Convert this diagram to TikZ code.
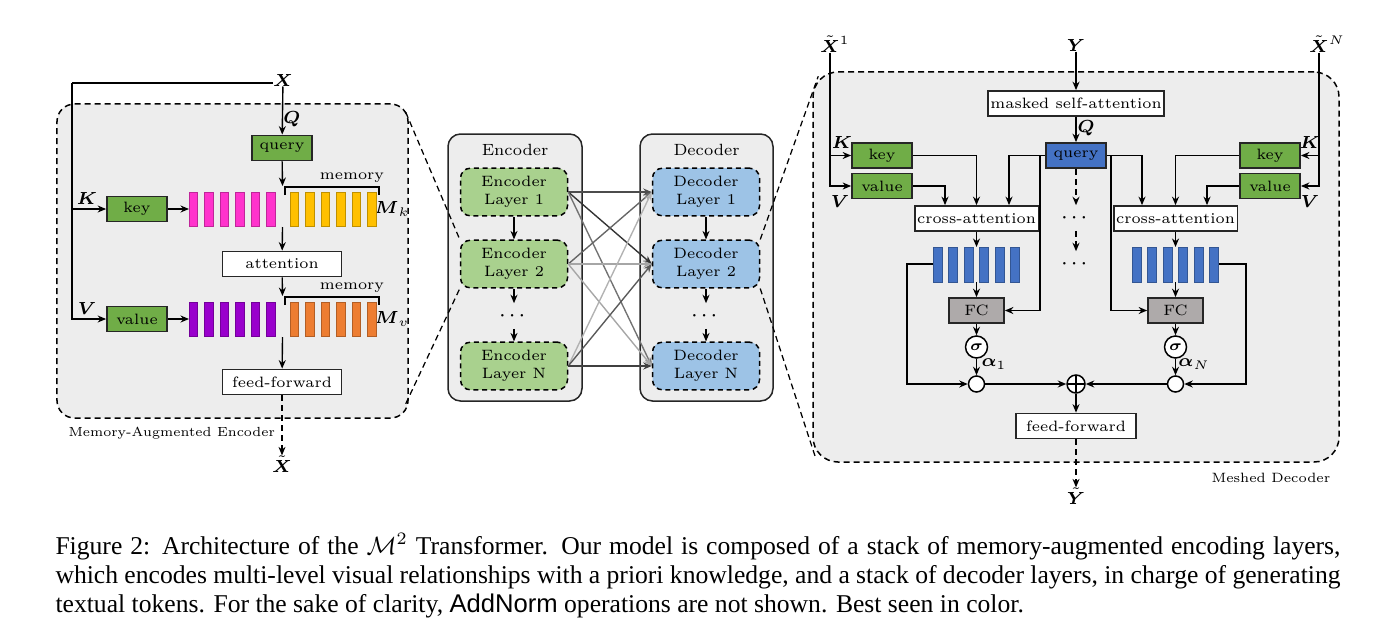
\documentclass[tikz,border=0pt]{standalone}
\usepackage{amsmath}
\usepackage{fontspec}
\newfontfamily\capfont{Liberation Serif}
\newfontfamily\capsans{Liberation Sans}
\usetikzlibrary{positioning, arrows.meta, calc}
\definecolor{kvgreen}{RGB}{112,173,71}
\definecolor{encgreen}{RGB}{169,209,142}
\definecolor{decblue}{RGB}{157,195,230}
\definecolor{qblue}{RGB}{68,114,196}
\definecolor{pinkbar}{RGB}{255,51,204}
\definecolor{yellowbar}{RGB}{255,192,0}
\definecolor{purplebar}{RGB}{153,0,204}
\definecolor{orangebar}{RGB}{237,125,49}
\definecolor{fcgray}{RGB}{174,170,170}
\definecolor{panelgray}{RGB}{237,237,237}
\tikzset{
>={Stealth[length=3.4pt,width=2.8pt]}, % small arrow heads everywhere
every node/.style={font=\fontsize{6}{7}\selectfont},
lbl/.style={font=\fontsize{7.3}{8}\selectfont, inner sep=0pt}, % math labels
panellabel/.style={anchor=west, inner sep=0pt, font=\fontsize{6}{7}\selectfont},
opbox/.style={draw=black!85, line width=0.7pt, minimum height=10pt, inner sep=1pt},
kvbox/.style={opbox, fill=kvgreen, minimum width=24pt},
whitebox/.style={opbox, fill=white, minimum width=47.6pt},
fcbox/.style={opbox, fill=fcgray, minimum width=22pt},
layerbox/.style={draw, line width=0.6pt, dash pattern=on 2pt off 1.5pt, rounded corners=4pt, minimum width=42.8pt, minimum height=18.4pt, align=center},
stackbox/.style={draw=black!85, line width=0.6pt, fill=panelgray, rounded corners=5pt},
panel/.style={draw, line width=0.6pt, dash pattern=on 2.4pt off 1.6pt, fill=panelgray},
zoomline/.style={line width=0.5pt, dash pattern=on 2.4pt off 1.6pt},
flow/.style={->, line width=0.55pt},
opcircle/.style={circle, draw, line width=0.6pt, fill=white, inner sep=0pt},
dotcircle/.style={opcircle, minimum size=6.4pt, path picture={\fill (path picture bounding box.center) circle (0.65pt);}},
pluscircle/.style={opcircle, minimum size=7.2pt, path picture={\draw[line width=0.6pt] (path picture bounding box.north) -- (path picture bounding box.south) (path picture bounding box.west) -- (path picture bounding box.east);}},
captext/.style={anchor=base west, inner sep=0pt, font=\capfont\fontsize{10.25}{12}\selectfont},
}

\begin{document}
\begin{tikzpicture}[x=0.4pt,y=-0.4pt]
\useasboundingbox (0,0) rectangle (1390,633);

% panels
\node[panel, rounded corners=7pt, minimum width=140.4pt, minimum height=125.6pt] (encpanel) at (232.5,261) {};
\node[stackbox, minimum width=53.6pt, minimum height=106.8pt] (encstack) at (515,267.5) {};
\node[stackbox, minimum width=53.2pt, minimum height=106.8pt] (decstack) at (706.5,267.5) {};
\node[panel, rounded corners=10pt, minimum width=210.4pt, minimum height=156pt] (decpanel) at (1076,267) {};

% memory-augmented encoder
\node[lbl] (X) at (283,80) {$\boldsymbol{X}$};
\node[kvbox] (query) at (282,148) {query};
\node[kvbox] (key) at (137,209) {key};
\node[kvbox] (value) at (137,319) {value};
\node[whitebox] (attn) at (282,264) {attention};
\node[whitebox] (ffe) at (282,382) {feed-forward};
\node[lbl] (Xt) at (282,464) {$\tilde{\boldsymbol{X}}$};
\node[lbl] (Qe) at (292,119) {$\boldsymbol{Q}$};
\node[lbl] (Ke) at (87,198) {$\boldsymbol{K}$};
\node[lbl] (Ve) at (87,308) {$\boldsymbol{V}$};
\node (memk) at (352,178) {memory};
\node (memv) at (352,288) {memory};
\node[lbl] (Mk) at (392,209) {$\boldsymbol{M}_k$};
\node[lbl] (Mv) at (392,319) {$\boldsymbol{M}_v$};
\node[panellabel] (enclabel) at (68,433) {\scalebox{0.88}{Memory-Augmented Encoder}};
\coordinate (xturn) at (72,83);
\coordinate (kin) at (189,209);
\coordinate (vin) at (189,319);
\coordinate (kvtop) at (282.5,186);
\coordinate (kvbot) at (282.5,227);
\coordinate (vvtop) at (282.5,296);
\coordinate (vvbot) at (282.5,337);

\foreach \i in {0,...,5} {
  \filldraw[fill=pinkbar, draw=pinkbar!75!black, line width=0.3pt] (189+15.5*\i,192) rectangle ++(8.5,34);
  \filldraw[fill=yellowbar, draw=yellowbar!75!black, line width=0.3pt] (290+15.5*\i,192) rectangle ++(8.5,34);
  \filldraw[fill=purplebar, draw=purplebar!75!black, line width=0.3pt] (189+15.5*\i,302) rectangle ++(8.5,34);
  \filldraw[fill=orangebar, draw=orangebar!75!black, line width=0.3pt] (290+15.5*\i,302) rectangle ++(8.5,34);
}
\draw[line width=0.55pt] (285,195) -- (285,187) -- (379,187) -- (379,195);
\draw[line width=0.55pt] (285,305) -- (285,297) -- (379,297) -- (379,305);

\draw[line width=0.55pt] (X.west |- xturn) -- (xturn);
\draw[flow] (xturn) |- (value.west);
\draw[flow] (xturn |- key) -- (key.west);
\draw[flow] (X) -- (query);
\draw[flow] (key) -- (kin);
\draw[flow] (value) -- (vin);
\draw[flow] (query) -- (kvtop);
\draw[flow] (kvbot) -- (attn);
\draw[flow] (attn) -- (vvtop);
\draw[flow] (vvbot) -- (ffe);
\draw[flow, dash pattern=on 2.4pt off 1.6pt] (ffe) -- (Xt);

% encoder and decoder stacks
\node[font=\fontsize{6.5}{7}\selectfont] (enctitle) at (515,150) {Encoder};
\node[font=\fontsize{6.5}{7}\selectfont] (dectitle) at (706.5,150) {Decoder};
\node[layerbox, fill=encgreen] (EL1) at (514,192) {Encoder\\Layer 1};
\node[layerbox, fill=encgreen] (EL2) at (514,264) {Encoder\\Layer 2};
\node[layerbox, fill=encgreen] (ELN) at (514,366) {Encoder\\Layer N};
\node[layerbox, fill=decblue] (DL1) at (706,192) {Decoder\\Layer 1};
\node[layerbox, fill=decblue] (DL2) at (706,264) {Decoder\\Layer 2};
\node[layerbox, fill=decblue] (DLN) at (706,366) {Decoder\\Layer N};
\node (edots) at (514,316) {$\boldsymbol{\cdots}$};
\node (ddots) at (706,316) {$\boldsymbol{\cdots}$};
\draw[flow] (EL1) -- (EL2);
\draw[flow] (EL2) -- (edots);
\draw[flow] (edots) -- (ELN);
\draw[flow] (DL1) -- (DL2);
\draw[flow] (DL2) -- (ddots);
\draw[flow] (ddots) -- (DLN);
\foreach \a/\b/\s in {EL1/DL1/70, EL1/DL2/80, EL1/DLN/55, EL2/DL1/60, EL2/DL2/35, EL2/DLN/35, ELN/DL1/30, ELN/DL2/65, ELN/DLN/75}
  \draw[flow, black!\s] (\a.east) -- (\b.west);

% zoom lines
\draw[zoomline] ($(encpanel.north east)+(-3,9)$) -- (EL2.north west);
\draw[zoomline] ($(encpanel.south east)+(-3,-15)$) -- (EL2.south west);
\draw[zoomline] (DL2.north east) -- ($(decpanel.north west)+(6,5)$);
\draw[zoomline] (DL2.south east) -- ($(decpanel.south west)+(3,-6)$);

% meshed decoder
\node[lbl] (X1) at (830,44) {$\tilde{\boldsymbol{X}}\rlap{$^1$}$};
\node[lbl] (Y) at (1076,45) {$\boldsymbol{Y}$};
\node[lbl] (XN) at (1319,44) {$\tilde{\boldsymbol{X}}\rlap{$^N$}$};
\node[whitebox, minimum width=64.8pt] (msa) at (1076,103.5) {masked self-attention};
\node[opbox, fill=qblue, minimum width=24pt] (dquery) at (1076,155.5) {query};
\node[kvbox] (lkey) at (882,155.5) {key};
\node[kvbox] (lvalue) at (882,186) {value};
\node[kvbox] (rkey) at (1270,155.5) {key};
\node[kvbox] (rvalue) at (1270,186) {value};
\node[lbl] (Qd) at (1086,128) {$\boldsymbol{Q}$};
\node[lbl] (Kl) at (842,142) {$\boldsymbol{K}$};
\node[lbl] (Vl) at (840,201) {$\boldsymbol{V}$};
\node[lbl] (Kr) at (1310,142) {$\boldsymbol{K}$};
\node[lbl] (Vr) at (1310,201) {$\boldsymbol{V}$};
\node[whitebox] (lca) at (976.5,218.5) {cross-attention};
\node[whitebox] (rca) at (1175.5,218.5) {cross-attention};
\node[fcbox] (lfc) at (976.5,310.5) {FC};
\node[fcbox] (rfc) at (1175.5,310.5) {FC};
\node[opcircle, minimum size=8.8pt] (lsig) at (976.5,347) {$\boldsymbol{\sigma}$};
\node[opcircle, minimum size=8.8pt] (rsig) at (1175.5,347) {$\boldsymbol{\sigma}$};
\node[dotcircle] (lodot) at (976.5,384) {};
\node[dotcircle] (rodot) at (1175.5,384) {};
\node[pluscircle] (oplus) at (1076,384) {};
\node[lbl] (a1) at (994,364) {$\boldsymbol{\alpha}_1$};
\node[lbl] (aN) at (1194,364) {$\boldsymbol{\alpha}_N$};
\node[whitebox, minimum width=48pt] (dff) at (1076,426) {feed-forward};
\node[lbl] (Yt) at (1076,496) {$\tilde{\boldsymbol{Y}}$};
\node (qdots1) at (1076,218) {$\boldsymbol{\cdots}$};
\node (qdots2) at (1076,264) {$\boldsymbol{\cdots}$};
\node[panellabel] (declabel) at (1211,478) {\scalebox{0.9}{Meshed Decoder}};
\coordinate (lbin) at (976.5,247);
\coordinate (lbout) at (976.5,282);
\coordinate (rbin) at (1175.5,247);
\coordinate (rbout) at (1175.5,282);
\coordinate (lbleft) at (933,264);
\coordinate (rbright) at (1219,264);

\foreach \i in {0,...,5} {
  \filldraw[fill=qblue, draw=qblue!75!black, line width=0.3pt] (933+15.5*\i,247) rectangle ++(9,35);
  \filldraw[fill=qblue, draw=qblue!75!black, line width=0.3pt] (1132+15.5*\i,247) rectangle ++(9,35);
}

\draw[flow] (X1) |- (lvalue.west);
\draw[flow] (X1 |- lkey) -- (lkey.west);
\draw[flow] (XN) |- (rvalue.east);
\draw[flow] (XN |- rkey) -- (rkey.east);
\draw[flow] (Y) -- (msa);
\draw[flow] (msa) -- (dquery);
\draw[flow] (lvalue.east) -| ($(lca.north)+(-31.5,0)$);
\draw[flow] (lkey.east) -| (lca.north);
\draw[flow] (dquery.west) -| ($(lca.north)+(32.5,0)$);
\draw[flow] (dquery.east) -| ($(rca.north)+(-33.5,0)$);
\draw[flow] (rkey.west) -| (rca.north);
\draw[flow] (rvalue.west) -| ($(rca.north)+(31.5,0)$);
\draw[flow] ($(dquery.west)+(-5,0)$) |- (lfc.east);
\draw[flow] ($(dquery.east)+(4,0)$) |- (rfc.west);
\draw[flow, dash pattern=on 2.4pt off 1.6pt] (dquery) -- (qdots1);
\draw[flow, dash pattern=on 2.4pt off 1.6pt] (qdots1) -- (qdots2);
\draw[flow] (lca) -- (lbin);
\draw[flow] (rca) -- (rbin);
\draw[flow] (lbout) -- (lfc);
\draw[flow] (rbout) -- (rfc);
\draw[flow] (lfc) -- (lsig);
\draw[flow] (rfc) -- (rsig);
\draw[flow] (lsig) -- (lodot);
\draw[flow] (rsig) -- (rodot);
\draw[flow] (lbleft) -- ++(-26,0) |- (lodot.west);
\draw[flow] (rbright) -- ++(27,0) |- (rodot.east);
\draw[flow] (lodot) -- (oplus);
\draw[flow] (rodot) -- (oplus);
\draw[flow] (oplus) -- (dff);
\draw[flow, dash pattern=on 2.4pt off 1.6pt] (dff) -- (Yt);

% caption
\node[captext] (cap1) at (55,554) {\makebox[514pt][s]{Figure 2: Architecture of the $\mathcal{M}^2$ Transformer. Our model is composed of a stack of memory-augmented encoding layers,}};
\node[captext] (cap2) at (55,583) {\makebox[514pt][s]{which encodes multi-level visual relationships with a priori knowledge, and a stack of decoder layers, in charge of generating}};
\node[captext] (cap3) at (55,612) {textual tokens. For the sake of clarity, {\capsans AddNorm} operations are not shown. Best seen in color.};
\end{tikzpicture}
\end{document}
